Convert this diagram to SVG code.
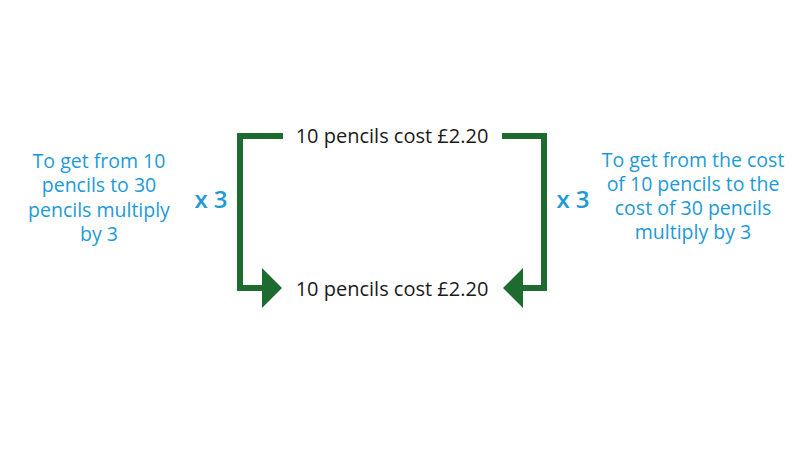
<svg xmlns="http://www.w3.org/2000/svg" width="800" height="450" viewBox="0 0 800 450">
<style>
.lbl{font-family:"Open Sans","Noto Sans",sans-serif;font-size:20px;fill:#1a1a1a;text-anchor:middle}
.note{font-family:"Open Sans","Noto Sans",sans-serif;font-size:19.5px;fill:#1d9ad6;text-anchor:middle}
.mul{font-family:"Open Sans","Noto Sans",sans-serif;font-size:24px;font-weight:600;fill:#1d9ad6;text-anchor:middle}
.ln{fill:none;stroke:#1e6b31;stroke-width:6}
.ah{fill:#1e6b31}
</style>
<rect width="800" height="450" fill="#fff"/>
<g id="top"><text class="lbl" x="392" y="143">10 pencils cost £2.20</text></g>
<g id="bottom"><text class="lbl" x="392" y="296">10 pencils cost £2.20</text></g>
<g id="note-left"><text class="note" x="99" y="168">To get from 10</text><text class="note" x="99" y="192">pencils to 30</text><text class="note" x="99" y="217">pencils multiply</text><text class="note" x="99" y="241">by 3</text></g>
<g id="note-right"><text class="note" x="693" y="167">To get from the cost</text><text class="note" x="693" y="191">of 10 pencils to the</text><text class="note" x="693" y="215">cost of 30 pencils</text><text class="note" x="693" y="239">multiply by 3</text></g>
<g id="mul-left"><text class="mul" x="211" y="208">x 3</text></g>
<g id="mul-right"><text class="mul" x="573" y="208">x 3</text></g>
<g id="connectors">
<polyline class="ln" points="283,136 240,136 240,288 264,288"/>
<polygon class="ah" points="262,268 282,288 262,308"/>
<polyline class="ln" points="502,136 544,136 544,288 521,288"/>
<polygon class="ah" points="523,268 503,288 523,308"/>
</g>
</svg>
